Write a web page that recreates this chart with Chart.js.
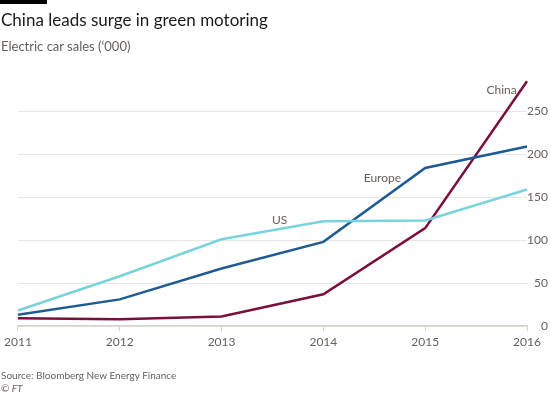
<!DOCTYPE html>
<html>
<head>
<meta charset="utf-8">
<script src="https://cdn.jsdelivr.net/npm/chart.js@4"></script>
<style>
  html, body { margin: 0; padding: 0; background: #fff; }
  #wrap { position: relative; width: 550px; height: 393px; font-family: Lato, "Noto Sans", sans-serif; }
  #chart { position: absolute; left: 0; top: 0; }
  .bar { position: absolute; left: 0; top: 0; width: 47px; height: 4px; background: #000; }
  .title { position: absolute; left: 1px; top: 9px; font-size: 17px; color: #1a1a1a; white-space: nowrap; }
  .sub { position: absolute; left: 1px; top: 38px; font-size: 13px; color: #66605c; white-space: nowrap; }
  .src { position: absolute; left: 1px; top: 369px; font-size: 10px; color: #66605c; white-space: nowrap; }
  .ft { position: absolute; left: 1px; top: 382px; font-size: 10px; color: #66605c; font-style: italic; }
</style>
</head>
<body>
<div id="wrap">
  <canvas id="chart" width="550" height="393"></canvas>
  <div class="bar"></div>
  <div class="title">China leads surge in green motoring</div>
  <div class="sub">Electric car sales (‘000)</div>
  <div class="src">Source: Bloomberg New Energy Finance</div>
  <div class="ft">© FT</div>
</div>
<script>
  const years = ['2011', '2012', '2013', '2014', '2015', '2016'];
  const us = [18, 58, 101, 122, 123, 159];
  const europe = [13, 31, 67, 98, 184, 209];
  const china = [9, 8, 11, 37, 114, 285];
  const yTicks = [0, 50, 100, 150, 200, 250];

  const textGrey = '#66605c';

  // series name labels placed next to their lines
  const seriesLabels = {
    id: 'seriesLabels',
    afterDatasetsDraw(c) {
      const { ctx, scales: { x, y } } = c;
      ctx.save();
      ctx.font = '12px Lato, "Noto Sans", sans-serif';
      ctx.fillStyle = textGrey;
      ctx.textAlign = 'center';
      ctx.textBaseline = 'middle';
      ctx.fillText('China', x.getPixelForValue(4.75), y.getPixelForValue(275));
      ctx.fillText('Europe', x.getPixelForValue(3.58), y.getPixelForValue(172));
      ctx.fillText('US', x.getPixelForValue(2.57), y.getPixelForValue(123.5));
      ctx.restore();
    }
  };

  const line = (data, color) => ({
    data, borderColor: color, borderWidth: 2.5, pointRadius: 0, tension: 0, fill: false
  });

  new Chart(document.getElementById('chart'), {
    type: 'line',
    data: {
      labels: years,
      datasets: [
        line(us, '#78d3dc'),
        line(europe, '#1f5b93'),
        line(china, '#7a0f3e')
      ]
    },
    options: {
      responsive: false,
      animation: false,
      layout: { padding: { left: 15, right: 2, top: 77, bottom: 37 } },
      plugins: { legend: { display: false }, tooltip: { enabled: false } },
      scales: {
        x: {
          offset: false,
          grid: { drawOnChartArea: false, drawTicks: true, tickLength: 5, color: '#d6d2cd' },
          border: { display: true, color: '#d6d2cd', width: 1.5 },
          ticks: { color: textGrey, font: { size: 12, family: 'Lato, "Noto Sans", sans-serif' }, padding: 4, maxRotation: 0 },
          afterFit(s) { s.height = 30; }
        },
        y: {
          position: 'right',
          min: 0, max: 290,
          grid: { color: '#e9e6e2', drawTicks: false, lineWidth: 1 },
          border: { display: false },
          afterBuildTicks(s) { s.ticks = yTicks.map(v => ({ value: v })); },
          ticks: {
            color: textGrey, crossAlign: 'far', padding: 0,
            font: { size: 12, family: 'Lato, "Noto Sans", sans-serif' }
          },
          afterFit(s) { s.width = 21; }
        }
      }
    },
    plugins: [seriesLabels]
  });
</script>
</body>
</html>
